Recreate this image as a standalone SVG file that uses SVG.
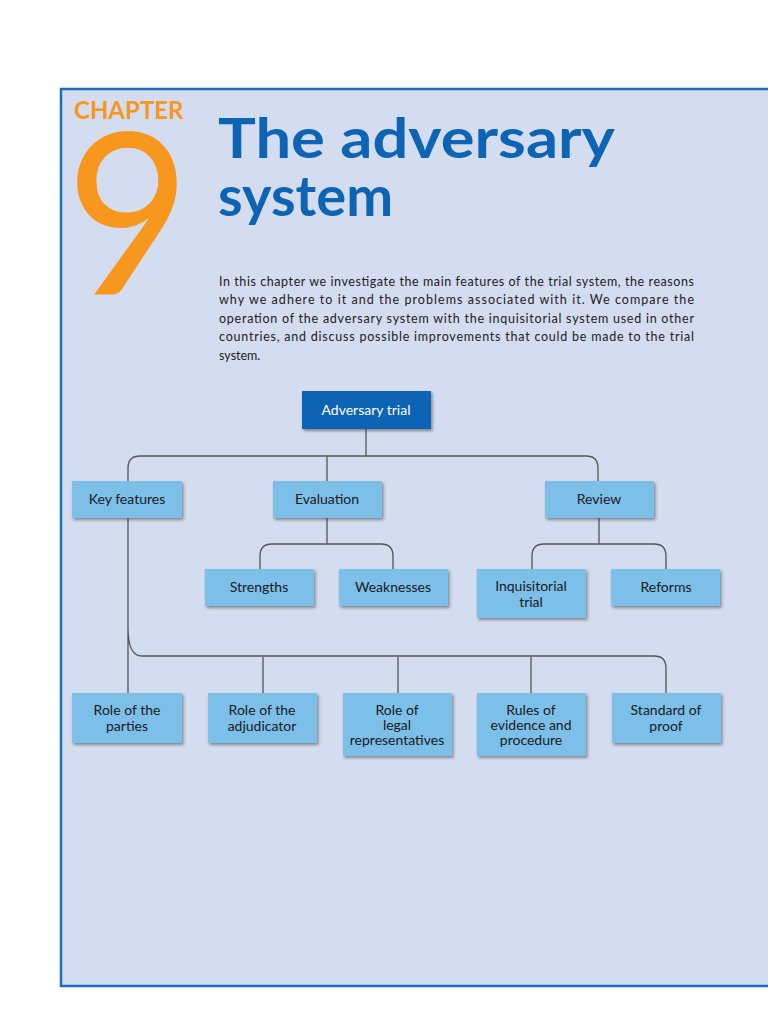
<svg xmlns="http://www.w3.org/2000/svg" width="768" height="1024" viewBox="0 0 768 1024">
<defs>
<filter id="sh" x="-10%" y="-10%" width="130%" height="140%"><feDropShadow dx="1.5" dy="2" stdDeviation="1.5" flood-color="#333" flood-opacity="0.5"/></filter>
<style>
.n{fill:#7bbfe9;filter:url(#sh)}
.t{font-family:"Lato","Liberation Sans",sans-serif;font-size:14px;fill:#1a1a1a;text-anchor:middle}
.c{fill:none;stroke:#555;stroke-width:1.3}
.p{font-family:"Lato","Liberation Sans",sans-serif;font-size:12.5px;fill:#222}
</style>
</defs>
<rect width="768" height="1024" fill="#fff"/>
<rect x="61" y="89" width="720" height="897" fill="#d4dcef" stroke="#1a6fc0" stroke-width="2.5"/>
<text x="74" y="119" font-family="Lato,'Liberation Sans',sans-serif" font-weight="bold" font-size="24" fill="#f7971e">CHAPTER</text>
<text x="66" y="294" font-family="Lato,'Liberation Sans',sans-serif" font-size="226" fill="#f7971e" textLength="124" lengthAdjust="spacingAndGlyphs">9</text>
<text x="218" y="158" font-family="Lato,'Liberation Sans',sans-serif" font-weight="bold" font-size="56" fill="#0e64b4" textLength="397" lengthAdjust="spacingAndGlyphs">The adversary</text>
<text x="218" y="216" font-family="Lato,'Liberation Sans',sans-serif" font-weight="bold" font-size="56" fill="#0e64b4">system</text>
<g class="p">
<text x="219" y="286" textLength="475" lengthAdjust="spacing">In this chapter we investigate the main features of the trial system, the reasons</text>
<text x="219" y="304" textLength="475" lengthAdjust="spacing">why we adhere to it and the problems associated with it. We compare the</text>
<text x="219" y="323" textLength="475" lengthAdjust="spacing">operation of the adversary system with the inquisitorial system used in other</text>
<text x="219" y="341" textLength="475" lengthAdjust="spacing">countries, and discuss possible improvements that could be made to the trial</text>
<text x="219" y="360">system.</text>
</g>
<g id="connectors">
<path class="c" d="M366 429V456M128 481V468Q128 456 140 456H586Q598 456 598 468V481M327 456V481"/>
<path class="c" d="M327 518V544M260 569V556Q260 544 272 544H381Q393 544 393 556V569"/>
<path class="c" d="M599 518V544M532 569V556Q532 544 544 544H654Q666 544 666 556V569"/>
<path class="c" d="M128 518V693M128 628Q128 656 142 656H654Q666 656 666 668V693M263 657V693M398 657V693M531 657V693"/>
</g>
<g id="adversary"><rect x="302" y="391" width="129" height="38" fill="#0e64b4" filter="url(#sh)"/><text class="t" x="366" y="415" style="fill:#fff">Adversary trial</text></g>
<g id="key"><rect class="n" x="72" y="481" width="110" height="37"/><text class="t" x="127" y="504">Key features</text></g>
<g id="eval"><rect class="n" x="273" y="481" width="109" height="37"/><text class="t" x="327" y="504">Evaluation</text></g>
<g id="review"><rect class="n" x="545" y="481" width="109" height="37"/><text class="t" x="599" y="504">Review</text></g>
<g id="str"><rect class="n" x="205" y="569" width="109" height="37"/><text class="t" x="259" y="592">Strengths</text></g>
<g id="weak"><rect class="n" x="339" y="569" width="109" height="37"/><text class="t" x="393" y="592">Weaknesses</text></g>
<g id="inq"><rect class="n" x="477" y="569" width="109" height="49"/><text class="t" x="531" y="591">Inquisitorial</text><text class="t" x="531" y="607">trial</text></g>
<g id="ref"><rect class="n" x="611" y="569" width="109" height="37"/><text class="t" x="666" y="592">Reforms</text></g>
<g id="parties"><rect class="n" x="72" y="693" width="110" height="50"/><text class="t" x="127" y="715">Role of the</text><text class="t" x="127" y="731">parties</text></g>
<g id="adj"><rect class="n" x="208" y="693" width="109" height="50"/><text class="t" x="262" y="715">Role of the</text><text class="t" x="262" y="731">adjudicator</text></g>
<g id="legal"><rect class="n" x="343" y="693" width="109" height="63"/><text class="t" x="397" y="715">Role of</text><text class="t" x="397" y="730">legal</text><text class="t" x="397" y="745">representatives</text></g>
<g id="rules"><rect class="n" x="477" y="693" width="109" height="63"/><text class="t" x="531" y="715">Rules of</text><text class="t" x="531" y="730">evidence and</text><text class="t" x="531" y="745">procedure</text></g>
<g id="std"><rect class="n" x="612" y="693" width="109" height="50"/><text class="t" x="666" y="715">Standard of</text><text class="t" x="666" y="731">proof</text></g>
</svg>
